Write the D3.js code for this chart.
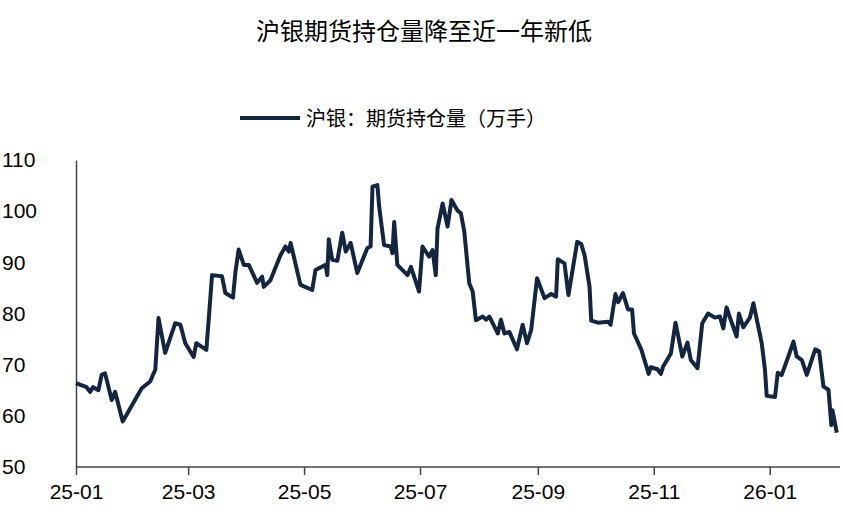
<!DOCTYPE html>
<html><head><meta charset="utf-8">
<script src="https://cdn.jsdelivr.net/npm/d3@7"></script>
<style>body{margin:0;background:#fff}</style></head>
<body><svg id="c" width="843" height="532"></svg>
<script>
const title = "沪银期货持仓量降至近一年新低";
const seriesName = "沪银：期货持仓量（万手）";
const startDate = new Date(2025, 0, 1);
const dayOffsets = [0,5.6,7.4,9,11.8,13.5,15.3,18.8,20.6,24.6,34.6,39,41.7,43.4,46.9,52.2,54.9,57.5,61.9,63.3,68.6,69.8,71.6,76.8,78.6,82.6,83.9,85.6,88.3,90.9,95.3,97.9,98.8,102.3,107.6,110.2,112,112.9,118.1,124.3,126,131.3,132.2,133,134.8,137.5,140.1,141.9,144.5,148,153.3,155,156,158.6,159.5,162.1,165.6,166.5,167.4,169.1,174.4,176.2,180.5,182.3,185.8,187.6,189.3,190.2,192.9,195.5,197.6,200.8,202.5,204.3,206.9,208.7,210.4,214,215.7,217.5,221.9,223.6,225.4,228,232,235,237.3,239.5,242.6,246.5,250,252.6,253.5,257,259.1,263.7,265.8,267.6,270.2,271.1,274.6,279.9,281.3,283.8,285.2,287.8,290.4,292.6,293.6,297.5,299.6,301.3,302.4,305.9,307.7,309,313,315.4,319,321.7,323.5,327,329.5,332.6,336.1,338.8,340.6,342.3,344.1,347.6,348.8,351.1,354.6,356.4,360.8,362.5,363.4,367.8,369.2,371.3,374.8,377.5,379.2,381.9,384.5,388.9,391,393.3,395.9,397.4,398,400.3];
const values = [66.4,65.6,64.7,65.6,65,68,68.3,63.1,64.7,58.9,65.4,66.7,69,79.1,72.3,78.1,77.8,74.2,71.5,74.2,72.9,78.7,87.5,87.3,84,83.1,88.2,92.5,89.5,89.5,86,87.2,85.2,86.5,91.4,93.1,92.1,93.8,85.6,84.6,88.5,89.5,87.5,94.5,90.5,90.3,95.8,92.1,93.8,87.9,92.8,93.1,104.8,105.1,100.9,93.4,93.1,91.8,97.9,89.5,87.5,89.1,84.3,93.1,91.1,92.4,87.5,96.6,101.5,97,102.2,100.1,99.6,96,85.9,84.3,78.7,79.4,78.8,79.4,76.1,78.8,76.1,76.4,73,77.8,74.2,76.8,86.9,83,83.8,83.3,90.6,89.8,83.6,94,93.6,91.4,85.2,78.6,78.2,78.4,77.8,83.8,82.2,84,80.8,80.8,76.1,72.9,70.3,68.2,69.5,69.1,68.2,69.7,72.2,78.2,71.6,74.3,70.9,69.3,78.1,80,79.2,79.4,77.1,81.2,79.2,75.5,80,77.3,79.2,82,74.2,69,63.9,63.7,68.4,68,71.6,74.5,71.6,70.9,68,73,72.6,65.7,65.1,58.2,61.1,56.7];
const yTicks = [50,60,70,80,90,100,110];
const xTickLabels = ["25-01","25-03","25-05","25-07","25-09","25-11","26-01"];
const color = "#14253f";
const font = "'Noto Sans CJK SC', sans-serif";

const svg = d3.select("#c");
const L=76, R=840, T=160, B=467;
const x = d3.scaleTime().domain([startDate, new Date(2026,1,6)]).range([L, L + 402*((768-76)/365)]);
const y = d3.scaleLinear().domain([50,110]).range([B,T]);
const data = dayOffsets.map((d,i)=>({date:d3.timeHour.offset(startDate, Math.round(d*24)), v:values[i]}));

svg.append("text").attr("x",424).attr("y",40).attr("text-anchor","middle")
  .style("font-family",font).style("font-size","24px").text(title);
svg.append("line").attr("x1",240).attr("x2",300).attr("y1",118).attr("y2",118).attr("stroke",color).attr("stroke-width",4);
svg.append("text").attr("x",306).attr("y",126).style("font-family",font).style("font-size","20px").text(seriesName);

const xTickDates = xTickLabels.map(s=>new Date(2000+ +s.slice(0,2), +s.slice(3)-1, 1));
const xa = svg.append("g").attr("transform",`translate(0,${B})`)
  .call(d3.axisBottom(x).tickValues(xTickDates).tickFormat((d,i)=>xTickLabels[i]).tickSize(8).tickSizeOuter(0));
xa.select(".domain").attr("d",`M${L},0H${R}`).attr("stroke","#444").attr("stroke-width",1.5);
xa.selectAll(".tick line").attr("stroke","#444").attr("stroke-width",1.5);
xa.selectAll("text").attr("dy","1.0em").style("font-family","Arial, sans-serif").style("font-size","21px").attr("fill","#000");

const ya = svg.append("g").attr("transform",`translate(${L},0)`)
  .call(d3.axisLeft(y).tickValues(yTicks).tickSize(0).tickPadding(8));
ya.select(".domain").attr("stroke","#444").attr("stroke-width",1.5);
ya.selectAll("text").attr("text-anchor","start").attr("x",-74).style("font-family","Arial, sans-serif").style("font-size","21px").attr("fill","#000");

svg.append("path").datum(data).attr("fill","none").attr("stroke",color).attr("stroke-width",4)
  .attr("stroke-linejoin","round")
  .attr("d", d3.line().x(d=>x(d.date)).y(d=>y(d.v)));
</script></body></html>
